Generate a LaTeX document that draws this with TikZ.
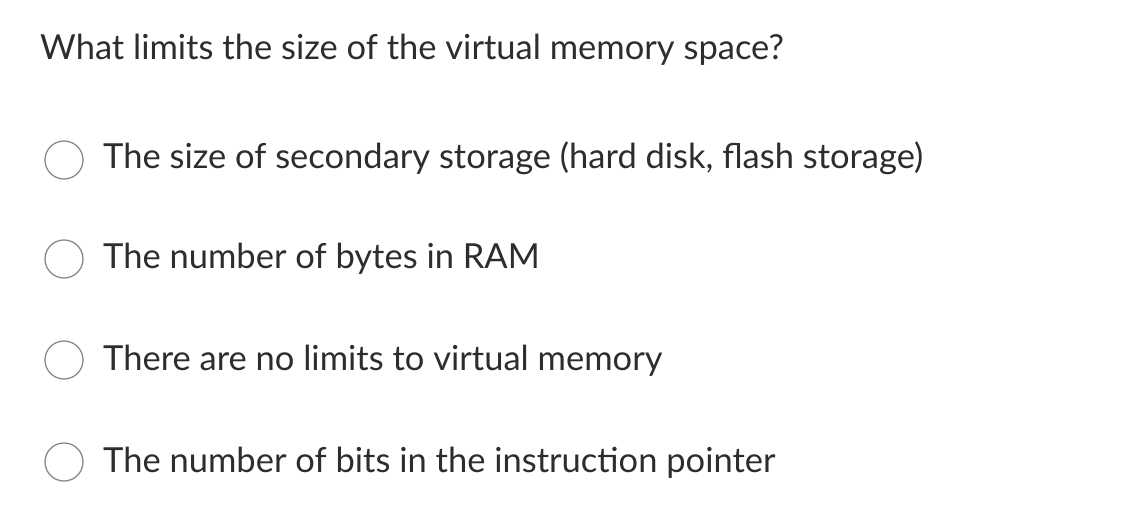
\documentclass[tikz,border=0pt]{standalone}
\usepackage{fontspec}
\setmainfont{Lato}
\definecolor{txt}{HTML}{2D2D2D}
\definecolor{ring}{HTML}{8A8A8A}
\begin{document}
\begin{tikzpicture}[x=1pt,y=-1pt,
  q/.style={anchor=base west,inner sep=0pt,text=txt,font=\fontsize{34.5}{36}\selectfont},
  radio/.style={circle,draw=ring,line width=1.3pt,fill=white,minimum size=38pt,inner sep=0pt}]
\useasboundingbox (0,0) rectangle (1126,526);
\node[q] (title) at (40,60) {What limits the size of the virtual memory space?};
\node[radio] (r1) at (64,160) {};
\node[q] (o1) at (103,169) {The size of secondary storage (hard disk, flash storage)};
\node[radio] (r2) at (64,259) {};
\node[q] (o2) at (103,269) {The number of bytes in RAM};
\node[radio] (r3) at (64,360) {};
\node[q] (o3) at (103,370) {There are no limits to virtual memory};
\node[radio] (r4) at (64,462) {};
\node[q] (o4) at (103,472) {The number of bits in the instruction pointer};
\end{tikzpicture}
\end{document}
